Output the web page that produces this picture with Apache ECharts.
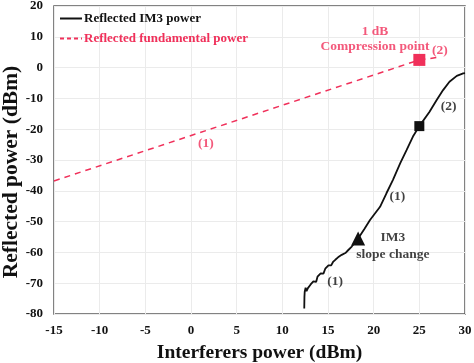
<!DOCTYPE html>
<html><head><meta charset="utf-8">
<script src="https://cdn.jsdelivr.net/npm/echarts@6/dist/echarts.min.js"></script>
<style>html,body{margin:0;padding:0;background:#fff}#c{width:474px;height:363px}</style>
</head><body><div id="c"></div>
<script>
var xTicks = [-15, -10, -5, 0, 5, 10, 15, 20, 25, 30];
var yTicks = [-80, -70, -60, -50, -40, -30, -20, -10, 0, 10, 20];
var seriesNames = ['Reflected IM3 power', 'Reflected fundamental power'];
var im3Power = [
  [12.4,-78.2],[12.42,-74.5],[12.45,-72.8],[12.55,-71.5],[12.65,-72.6],[12.8,-71.6],[12.95,-71.9],[13.1,-70.4],[13.25,-70.8],[13.4,-69.4],[13.55,-69.9],[13.7,-69.6],
  [13.85,-67.9],[14.0,-68.4],[14.2,-66.8],[14.35,-67.4],[14.5,-66.9],[14.7,-65.3],[14.85,-65.8],[15.05,-64.2],[15.2,-63.6],[15.35,-64.2],[15.55,-63.1],[15.8,-62.4],
  [15.95,-62.8],[16.1,-61.6],[16.3,-61.9],[16.5,-60.8],[16.7,-61.0],[16.9,-60.2],[17.05,-60.5],[17.2,-59.3],[17.4,-59.0],[17.6,-58.1],[17.8,-57.6],[18.0,-56.6],[18.3,-55.5],[19.0,-52.3],
  [19.6,-49.5],[20.7,-45.2],[21.4,-40.8],[22.1,-36.5],[22.9,-31.1],[23.6,-26.8],[24.3,-22.4],
  [25.0,-19.0],[26.1,-14.4],[26.9,-10.5],[27.6,-7.3],[28.3,-4.6],[29.1,-2.7],[29.8,-1.9],[30,-1.8]
];
var fundamentalPower = [[-15,-36.8],[25,2.5],[27,3.3]];
var compressionPoint = [[25, 2.5]];
var im3Square = [[25, -19]];
var slopeChangePoint = [[18.3, -55.5]];
var redLabels = [[20.15, 11.65, '1 dB'], [20.15, 6.8, 'Compression point'], [27.25, 5.7, '(2)'], [1.64, -24.5, '(1)']];
var blackLabels = [[28.2, -12.5, '(2)'], [22.6, -42.0, '(1)'], [22.1, -55.3, 'IM3'], [22.1, -60.8, 'slope change'], [15.77, -69.6, '(1)']];

var RED = '#f0305a';
var FONT = '"Liberation Serif","Times New Roman",serif';
function labelSeries(arr, color) {
  return {
    type: 'scatter', symbolSize: 0, silent: true, z: 10,
    data: arr.map(function (d) { return { value: [d[0], d[1]], name: d[2] }; }),
    label: { show: true, position: 'inside', formatter: function (p) { return p.name; },
      color: color, fontFamily: FONT, fontWeight: 'bold', fontSize: 13.5 }
  };
}
var chart = echarts.init(document.getElementById('c'));
chart.setOption({
  animation: false,
  grid: { left: 54, right: 9, top: 6, bottom: 49, show: true, borderColor: '#5a5a5a', borderWidth: 1.5,
    containLabel: false, outerBoundsMode: 'none' },
  legend: {
    left: 55, top: 6, orient: 'vertical', itemWidth: 22, itemHeight: 2, itemGap: 5,
    symbolKeepAspect: false,
    data: [
      { name: seriesNames[0], icon: 'path://M0,0H22V2H0Z', textStyle: { color: '#111' } },
      { name: seriesNames[1], icon: 'path://M0,0H4V2H0Z M7,0H11V2H7Z M14,0H18V2H14Z M21,0H22V2H21Z', textStyle: { color: RED } }
    ],
    textStyle: { fontFamily: FONT, fontWeight: 'bold', fontSize: 13, padding: [0, 0, 0, -3], lineHeight: 15 }
  },
  xAxis: {
    type: 'value', min: xTicks[0], max: xTicks[xTicks.length - 1], interval: 5,
    name: 'Interferers power (dBm)', nameLocation: 'middle', nameGap: 29, nameMoveOverlap: false,
    nameTextStyle: { fontFamily: FONT, fontWeight: 'bold', fontSize: 19.5, color: '#111' },
    axisLine: { show: false }, axisTick: { show: false },
    axisLabel: { fontFamily: FONT, fontWeight: 'bold', fontSize: 13, color: '#111', margin: 10 },
    splitLine: { show: true, lineStyle: { color: '#ebebeb' } }
  },
  yAxis: {
    type: 'value', min: yTicks[0], max: yTicks[yTicks.length - 1], interval: 10,
    name: 'Reflected power (dBm)', nameLocation: 'middle', nameGap: 32, nameMoveOverlap: false,
    nameTextStyle: { fontFamily: FONT, fontWeight: 'bold', fontSize: 21.5, color: '#111', padding: [0, 24, 0, 0] },
    axisLine: { show: false }, axisTick: { show: false },
    axisLabel: { fontFamily: FONT, fontWeight: 'bold', fontSize: 13, color: '#111', margin: 11 },
    splitLine: { show: true, lineStyle: { color: '#ebebeb' } }
  },
  series: [
    { name: seriesNames[0], type: 'line', data: im3Power, showSymbol: false, symbol: 'none',
      lineStyle: { color: '#111', width: 1.8 }, itemStyle: { color: '#111' } },
    { name: seriesNames[1], type: 'line', data: fundamentalPower, showSymbol: false, symbol: 'none',
      lineStyle: { color: RED, width: 1.5, type: [6, 5] }, itemStyle: { color: RED } },
    { type: 'scatter', data: compressionPoint, symbol: 'rect', symbolSize: 12, itemStyle: { color: RED, opacity: 1 }, z: 5 },
    { type: 'scatter', data: im3Square, symbol: 'rect', symbolSize: 10, itemStyle: { color: '#111', opacity: 1 }, z: 5 },
    { type: 'scatter', data: slopeChangePoint, symbol: 'triangle', symbolSize: 14, itemStyle: { color: '#111', opacity: 1 }, z: 5 },
    labelSeries(redLabels, RED),
    labelSeries(blackLabels, '#111')
  ]
});
</script></body></html>
